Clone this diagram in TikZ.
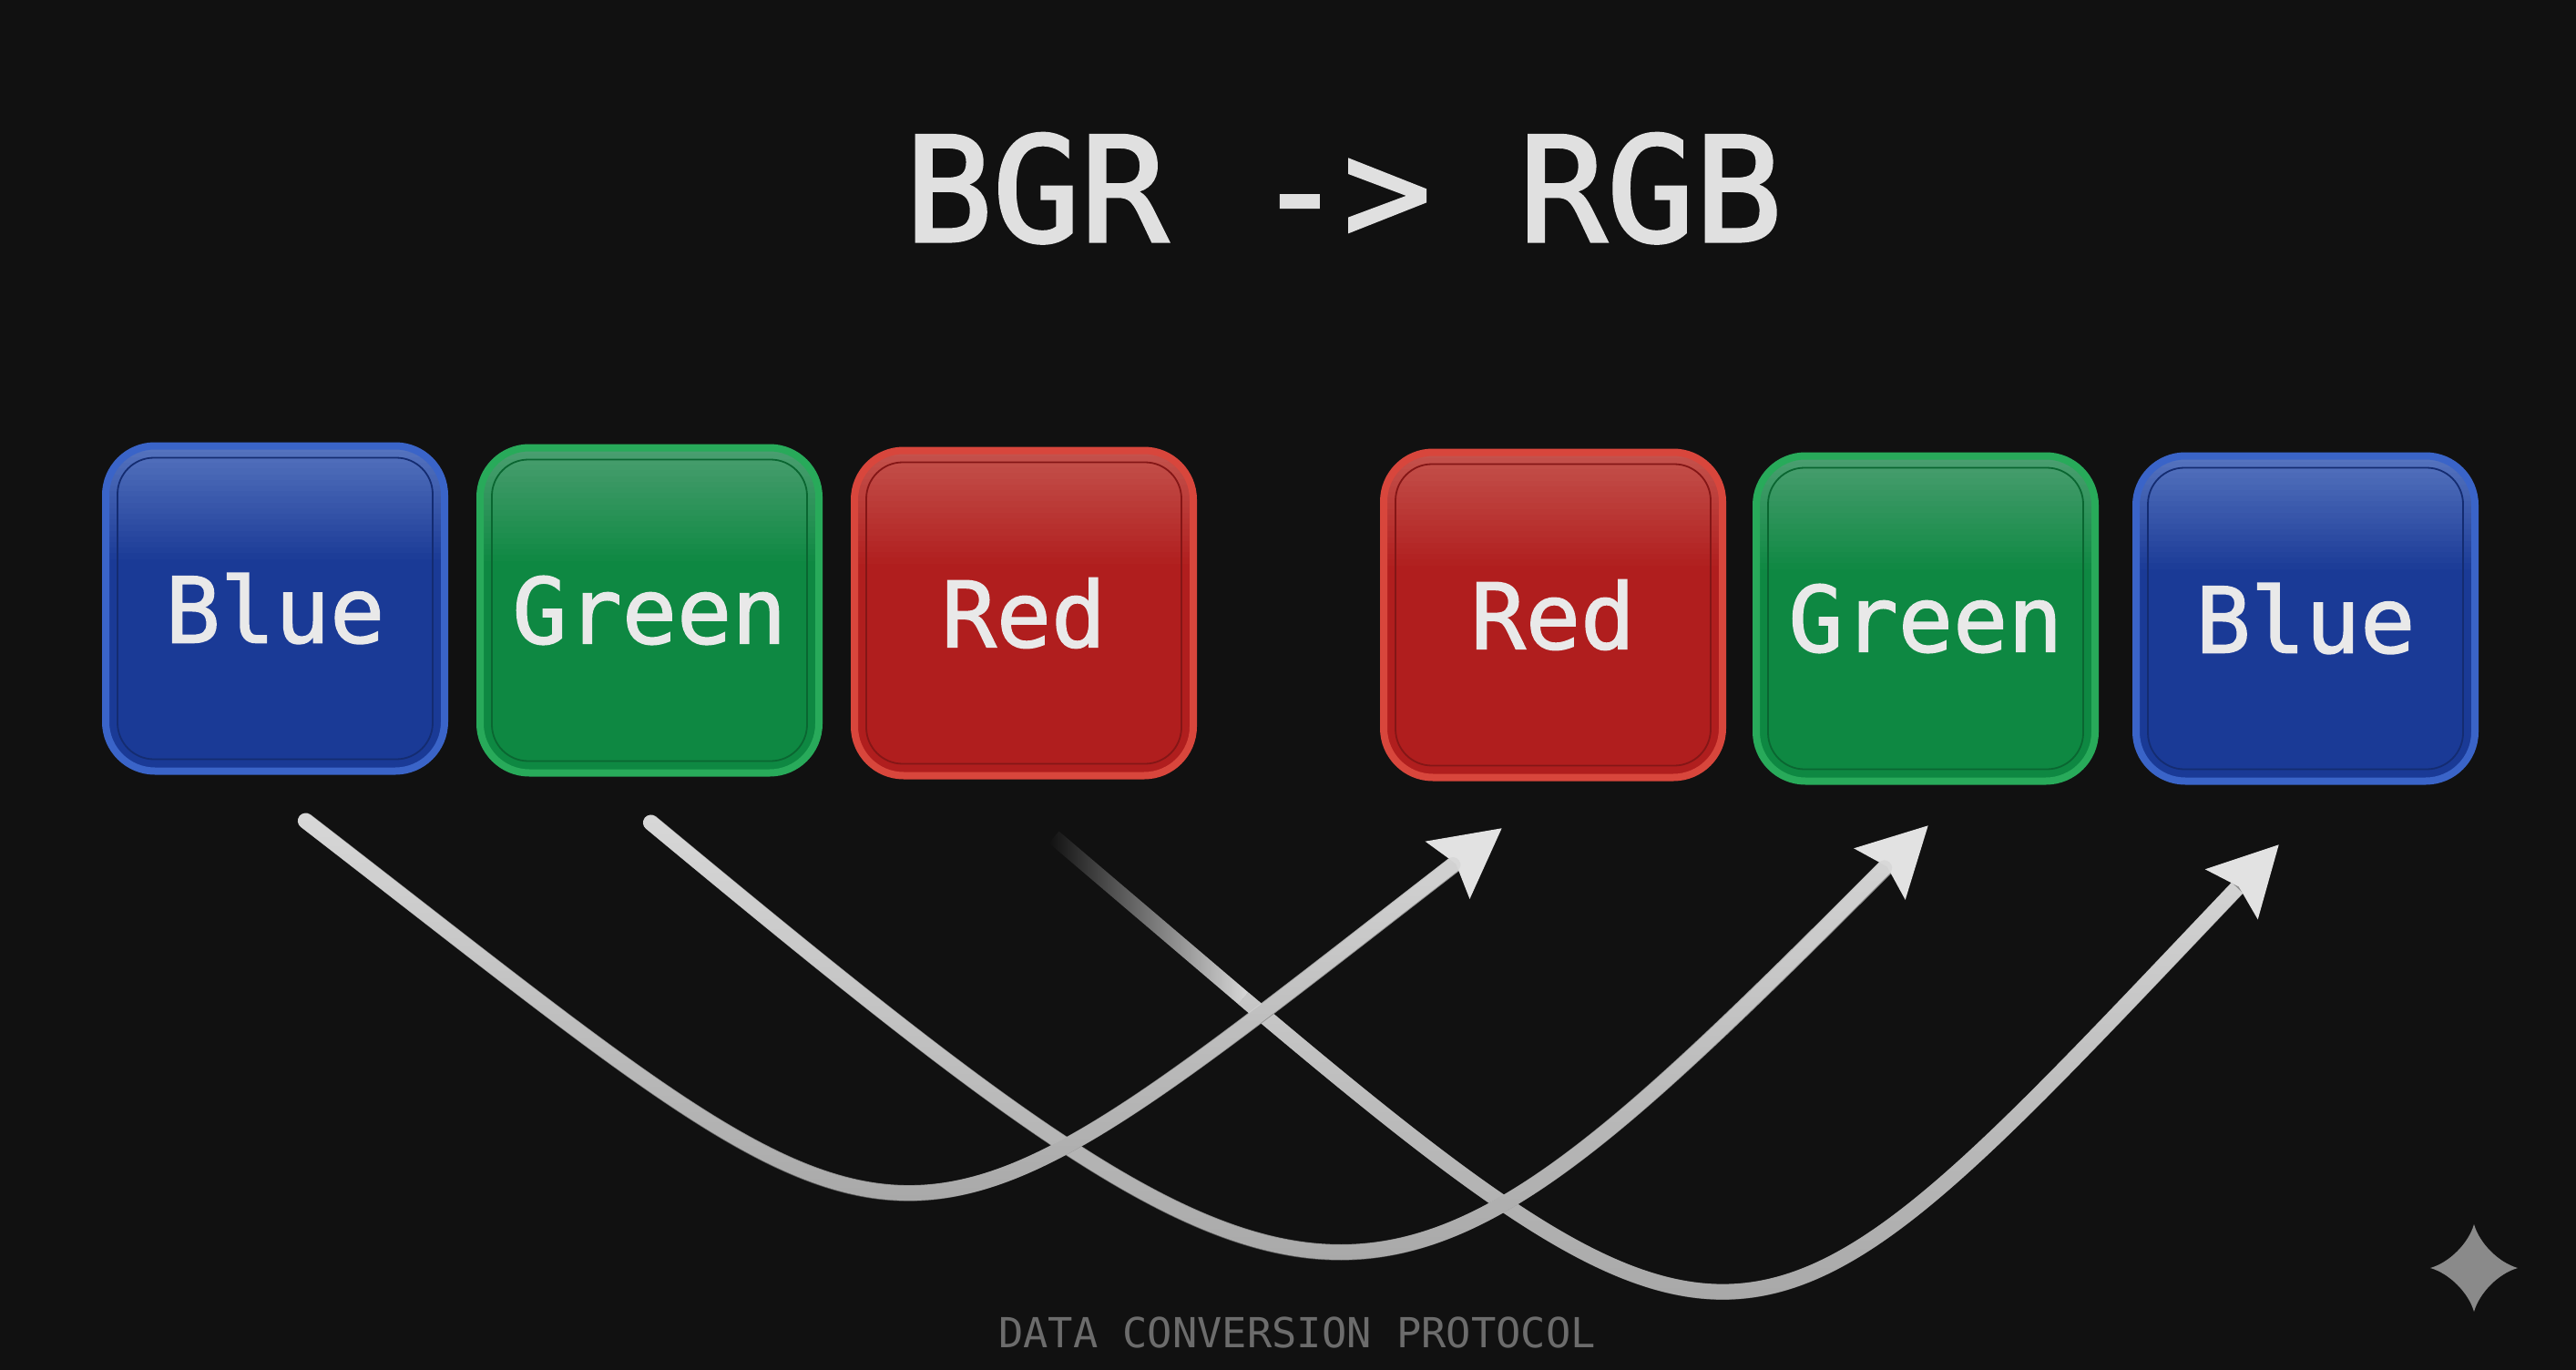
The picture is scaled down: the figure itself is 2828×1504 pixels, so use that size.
\documentclass[tikz,border=0pt]{standalone}
\usepackage{fontspec}
\newfontfamily\dmono{DejaVu Sans Mono}
\newfontfamily\dmonolab[FakeBold=1.5]{DejaVu Sans Mono}
\newfontfamily\dmonotit[FakeBold=2]{DejaVu Sans Mono}
\usetikzlibrary{arrows.meta,fadings}
\definecolor{bgc}{HTML}{111111}
\definecolor{titlec}{HTML}{E0E0E0}
\definecolor{labelc}{HTML}{E9E9E9}
\definecolor{footc}{HTML}{6C6C6C}
\definecolor{starc}{HTML}{8A8A8A}
\definecolor{arc}{HTML}{D8D8D8}
\definecolor{arcdark}{HTML}{909090}
\definecolor{tipc}{HTML}{E2E2E2}
\definecolor{bluebd}{HTML}{3A64C8}
\definecolor{bluefl}{HTML}{1A3A96}
\definecolor{bluegl}{HTML}{5573BE}
\definecolor{greenbd}{HTML}{28AA5A}
\definecolor{greenfl}{HTML}{0E8842}
\definecolor{greengl}{HTML}{4A9E70}
\definecolor{redbd}{HTML}{D8463C}
\definecolor{redfl}{HTML}{B01E1E}
\definecolor{redgl}{HTML}{C4524C}
\tikzfading[name=keeptop, top color=transparent!0, middle color=transparent!0, bottom color=transparent!85]
\begin{document}
\begin{tikzpicture}[x=0.5pt, y=-0.5pt,
  colbox/.style n args={3}{draw=#1, fill=#2, line width=4pt, rounded corners=27pt,
    minimum width=186pt, minimum height=178.5pt, inner sep=0pt, text=labelc,
    font=\dmonolab\fontsize{50pt}{60pt}\selectfont,
    path picture={
      \foreach \i in {0,...,19} {
        \pgfmathtruncatemacro\pc{100-\i*5}
        \fill[#3!\pc!#2, sharp corners]
          ([yshift=-\i*3.1pt]path picture bounding box.north west) rectangle
          ([yshift=-\i*3.1pt-3.4pt]path picture bounding box.north east);
      }
      \draw[line width=0.9pt, draw=#2!75!black, rounded corners=20pt]
        ([shift={(6.5pt,-6.5pt)}]path picture bounding box.north west) rectangle
        ([shift={(-6.5pt,6.5pt)}]path picture bounding box.south east);
    }},
  baseline/.style={draw=arcdark, line width=8.5pt, line cap=round},
  lightover/.style={draw=arc, line width=8.5pt, line cap=round, path fading=keeptop, shorten >=33pt},
  arrowend/.style={-{Stealth[length=37pt, width=38pt, inset=5pt, color=tipc]}}
]
% background
\fill[bgc] (0,0) rectangle (2828,1504);
\useasboundingbox (0,0) rectangle (2828,1504);

% title
\node[font=\dmonotit\fontsize{80pt}{96pt}\selectfont, text=titlec, anchor=base, inner sep=0pt] (title) at (1475,265) {BGR -> RGB};

% boxes
\node[colbox={bluebd}{bluefl}{bluegl}] (b1) at (302,668) {Blue};
\node[colbox={greenbd}{greenfl}{greengl}] (g1) at (713,670) {Green};
\node[colbox={redbd}{redfl}{redgl}] (r1) at (1124,673) {Red};
\node[colbox={redbd}{redfl}{redgl}] (r2) at (1705,675) {Red};
\node[colbox={greenbd}{greenfl}{greengl}] (g2) at (2114,679) {Green};
\node[colbox={bluebd}{bluefl}{bluegl}] (b2) at (2531,679) {Blue};

% connector end points
\coordinate (s1) at ([shift={(34,50.5)}]b1.south);
\coordinate (e1) at ([shift={(-56,51.5)}]r2.south);
\coordinate (s2) at ([shift={(2,50.5)}]g1.south);
\coordinate (e2) at ([shift={(3,44.5)}]g2.south);
\coordinate (s3) at ([shift={(33,63.5)}]r1.south);
\coordinate (m3) at ([shift={(208,177)}]s3);
\coordinate (e3) at ([shift={(-29,65.5)}]b2.south);

% curve 3 (Red -> Red), fading in at its start
\shade[left color=bgc, right color=arc, shift={(s3)}, rotate=-40.4] (0pt,-4.25pt) rectangle (136.6pt,4.25pt);
\draw[baseline, line cap=butt, arrowend] (m3) .. controls +(560,473) and +(-561,589) .. (e3);
\draw[lightover, line cap=butt] (m3) .. controls +(560,473) and +(-561,589) .. (e3);

% curve 2 (Green -> Green)
\draw[baseline, arrowend] (s2) .. controls +(756,627) and +(-612,612) .. (e2);
\draw[lightover] (s2) .. controls +(756,627) and +(-612,612) .. (e2);

% curve 1 (Blue -> Blue)
\draw[baseline, arrowend] (s1) .. controls +(690,533) and +(-690,533) .. (e1);
\draw[lightover] (s1) .. controls +(690,533) and +(-690,533) .. (e1);

% footer
\node[font=\dmono\fontsize{22.7pt}{27pt}\selectfont, text=footc, anchor=base, inner sep=0pt] (foot) at (1424,1479) {DATA CONVERSION PROTOCOL};

% sparkle
\fill[starc, shift={(2716,1392)}] (0pt,24pt) .. controls (3pt,13.5pt) and (13.5pt,3pt) .. (24pt,0pt)
  .. controls (13.5pt,-3pt) and (3pt,-13.5pt) .. (0pt,-24pt)
  .. controls (-3pt,-13.5pt) and (-13.5pt,-3pt) .. (-24pt,0pt)
  .. controls (-13.5pt,3pt) and (-3pt,13.5pt) .. cycle;
\end{tikzpicture}
\end{document}
